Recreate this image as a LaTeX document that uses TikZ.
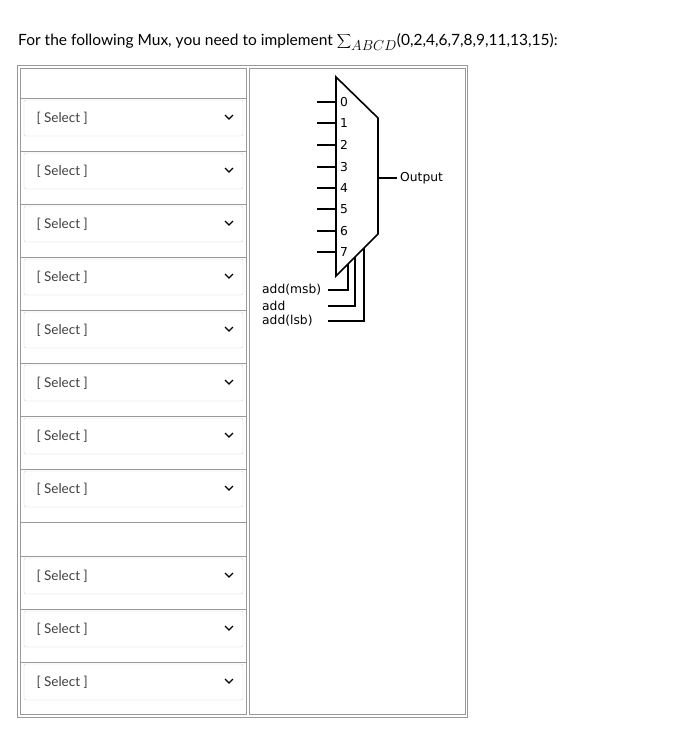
\documentclass[tikz,border=0pt]{standalone}
\usepackage{fontspec}
\setmainfont{Lato}
\newfontfamily\dv{DejaVu Sans}
\begin{document}
\begin{tikzpicture}[x=1pt,y=-1pt,
  sel/.style={draw=gray!35,rounded corners=2pt,fill=white},
  seltxt/.style={anchor=west,font=\fontsize{13.5}{15}\selectfont,text=black!75},
  cell/.style={draw=gray!80,line width=0.8pt},
  wire/.style={line width=1.6pt},
  lbl/.style={font=\dv\fontsize{12.3}{13}\selectfont,inner sep=0pt}]
\useasboundingbox (0,0) rectangle (678,732);
\node[anchor=west,inner sep=0pt,font=\fontsize{15.5}{18}\selectfont] (title) at (18,42)
 {For the following Mux, you need to implement {\fontsize{19}{20}\selectfont$\displaystyle\sum\nolimits_{ABCD}$}(0,2,4,6,7,8,9,11,13,15):};
\draw[cell] (17,65) rectangle (467,717);
\draw[cell] (20,68) rectangle (246,714);
\draw[cell] (249,68) rectangle (465,714);
\foreach \y in {98,151,204,257,310,363,416,469,522,556,609,662} \draw[cell] (20,\y) -- (246,\y);
\foreach[count=\i] \y in {99,152,205,258,311,364,417,470,557,610,663} {
  \draw[sel] (24,\y+1) rectangle (243,\y+37);
  \node[seltxt] (s\i) at (33,\y+19) {[ Select ]};
  \draw[line width=1.3pt] (225,\y+16) -- (229,\y+20) -- (233,\y+16);
}
% mux
\draw[wire,line join=miter] (336,77) -- (378,118) -- (378,234) -- (336,276) -- cycle;
\foreach[count=\i from 0] \y in {102,123,145,167,188,209,231,252} {
  \draw[wire] (317,\y) -- (336,\y);
  \node[lbl,anchor=west] (in\i) at (340,\y) {\i};
}
\coordinate (oa) at (378,178);
\coordinate (ob) at (397,178);
\draw[wire] (oa) -- (ob);
\node[lbl,anchor=west] (out) at (400,178) {Output};
\draw[wire] (348,264) -- (348,290) -- (328,290);
\draw[wire] (355,257) -- (355,306) -- (328,306);
\draw[wire] (364,248) -- (364,321) -- (328,321);
\node[lbl,anchor=west] (a2) at (262,290) {add(msb)};
\node[lbl,anchor=west] (a1) at (262,306) {add};
\node[lbl,anchor=west] (a0) at (262,321) {add(lsb)};
\end{tikzpicture}
\end{document}
